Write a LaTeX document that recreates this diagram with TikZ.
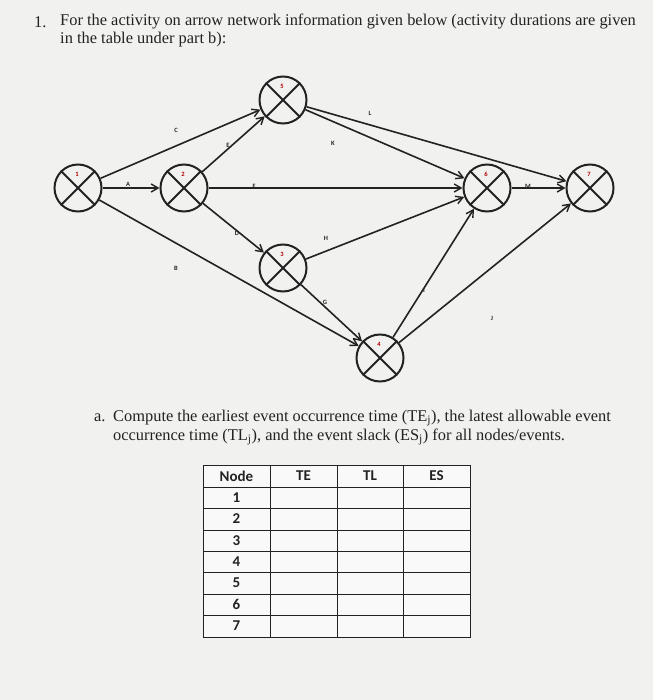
\documentclass[tikz,border=0pt]{standalone}
\usepackage{fontspec}
\setmainfont{Liberation Serif}
\newfontfamily\carlitofont{Carlito}
\usetikzlibrary{arrows.meta}
\definecolor{bg}{HTML}{F1F1EF}
\definecolor{ink}{HTML}{222222}
\tikzset{
 ev/.style={circle,draw=ink,line width=2pt,minimum size=47pt,inner sep=0pt},
 act/.style={draw=ink,line width=1.6pt,-{Straight Barb[length=7pt,width=8pt,line width=1.4pt]}},
 lab/.style={font=\carlitofont\fontsize{6.5}{7}\selectfont\bfseries,text=ink,inner sep=0pt},
 num/.style={font=\carlitofont\fontsize{6.5}{7}\selectfont\bfseries,text=red!70!black,inner sep=0pt},
 txt/.style={font=\fontsize{16.4}{18}\selectfont,text=ink,anchor=west,inner sep=0pt},
 cell/.style={font=\carlitofont\fontsize{15}{17}\selectfont\bfseries,text=ink,inner sep=0pt}
}
\begin{document}
\begin{tikzpicture}[x=1pt,y=-1pt]
\fill[bg] (0,0) rectangle (653,700);
\useasboundingbox (0,0) rectangle (653,700);
\node[txt] (q1) at (34,22) {1.};
\node[txt] (t1) at (60,22) {For the activity on arrow network information given below (activity durations are given};
\node[txt] (t2) at (60,40) {in the table under part b):};
% events
\foreach \n/\x/\y in {1/78/188,2/184/188,5/283/100,3/283/268,4/380/358,6/487/188,7/590/188}{
 \node[ev] (e\n) at (\x,\y) {};
 \draw[ink,line width=2pt] (e\n.north west) -- (e\n.south east) (e\n.north east) -- (e\n.south west);
 \node[num] (n\n) at (\x-1,\y-14) {\n};
}
\draw[act] (e1) -- (e2);
\draw[act] (e1) -- (e5);
\draw[act] (e1) -- (e4);
\draw[act] (e2) -- (e5);
\draw[act] (e2) -- (e6);
\draw[act] (e2) -- (e3);
\draw[act] (e5) -- (e6);
\draw[act] (e5) -- (e7);
\draw[act] (e3) -- (e6);
\draw[act] (e3) -- (e4);
\draw[act] (e4) -- (e6);
\draw[act] (e4) -- (e7);
\draw[act] (e6) -- (e7);
\foreach \l/\x/\y in {C/176/130,E/228/145,K/333/143,L/370/113,A/128/184,F/254/186,D/237/233,B/176/268,H/326/238,G/325/302,I/424/290,J/492/318,M/528/186}{
 \node[lab] (l\l) at (\x,\y) {\l};
}
\node[txt] (qa) at (94,418) {a.};
\node[txt] (ta1) at (113,418) {Compute the earliest event occurrence time (TE\textsubscript{j}), the latest allowable event};
\node[txt] (ta2) at (113,437) {occurrence time (TL\textsubscript{j}), and the event slack (ES\textsubscript{j}) for all nodes/events.};
% table
\fill[white!60!bg] (203,465) rectangle (470,637);
\draw[ink,line width=1pt] (203,465) rectangle (470,637);
\foreach \x in {270,337,403} \draw[ink,line width=1pt] (\x,465) -- (\x,637);
\foreach \y in {487,508,530,551,572,594,615} \draw[ink,line width=1pt] (203,\y) -- (470,\y);
\node[cell] (h0) at (236.5,476) {Node};
\node[cell] (h1) at (303.5,476) {TE};
\node[cell] (h2) at (370,476) {TL};
\node[cell] (h3) at (436.5,476) {ES};
\foreach \i/\y in {1/497.5,2/519,3/540.5,4/561.5,5/583,6/604.5,7/626}{
 \node[cell] (r\i) at (236.5,\y) {\i};
}
\end{tikzpicture}
\end{document}
